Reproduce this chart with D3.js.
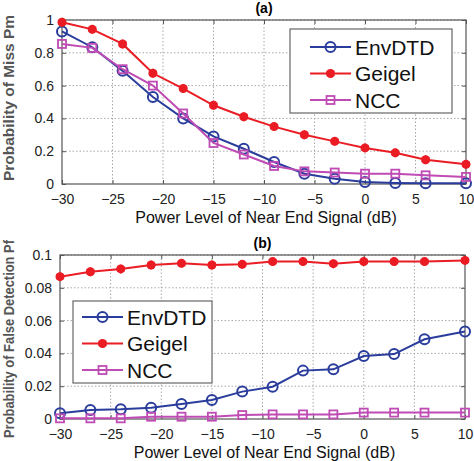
<!DOCTYPE html>
<html>
<head>
<meta charset="utf-8">
<script src="https://cdn.jsdelivr.net/npm/d3@7"></script>
<style>
  body { margin: 0; background: #fff; }
  svg { font-family: "Liberation Sans", Arial, sans-serif; }
</style>
</head>
<body>
<svg id="vis-svg" width="474" height="461"></svg>
<script>
// power level of near end signal (dB)
const powerLevels = [-30, -27, -24, -21, -18, -15, -12, -9, -6, -3, 0, 3, 6, 10];
const xTicks = [-30, -25, -20, -15, -10, -5, 0, 5, 10];

// (a) probability of miss
const missEnvDTD = [0.93, 0.834, 0.69, 0.53, 0.40, 0.29, 0.215, 0.134, 0.063, 0.032, 0.012, 0.006, 0.004, 0.004];
const missGeigel = [0.986, 0.943, 0.854, 0.675, 0.582, 0.48, 0.41, 0.35, 0.30, 0.26, 0.22, 0.19, 0.148, 0.12];
const missNCC    = [0.854, 0.83, 0.70, 0.60, 0.43, 0.25, 0.18, 0.11, 0.077, 0.07, 0.063, 0.063, 0.053, 0.043];
const missTicks  = [0, 0.2, 0.4, 0.6, 0.8, 1];

// (b) probability of false detection
const falseEnvDTD = [0.0035, 0.0055, 0.0059, 0.0069, 0.0091, 0.0116, 0.0167, 0.0197, 0.0295, 0.0303, 0.0384, 0.0396, 0.0486, 0.0533];
const falseGeigel = [0.0868, 0.0898, 0.0915, 0.0939, 0.0949, 0.0939, 0.0943, 0.096, 0.096, 0.0947, 0.096, 0.096, 0.096, 0.0967];
const falseNCC    = [0.0004, 0.0004, 0.0004, 0.0014, 0.0014, 0.0014, 0.0024, 0.0028, 0.0028, 0.0028, 0.0039, 0.0039, 0.0039, 0.0039];
const falseTicks  = [0, 0.02, 0.04, 0.06, 0.08, 0.1];

const seriesNames = ["EnvDTD", "Geigel", "NCC"];
const colors = { EnvDTD: "#2b3d9c", Geigel: "#ea1c24", NCC: "#bf4bb4" };

const svg = d3.select("#vis-svg");

const drawMarker = (g, name, x, y) => {
  if (name === "EnvDTD") {
    g.append("circle").attr("cx", x).attr("cy", y).attr("r", 5)
      .attr("fill", "none").attr("stroke", colors[name]).attr("stroke-width", 2);
  } else if (name === "Geigel") {
    g.append("circle").attr("cx", x).attr("cy", y).attr("r", 4.5).attr("fill", colors[name]);
    g.append("path").attr("d", d3.symbol(d3.symbolAsterisk, 55)())
      .attr("transform", `translate(${x},${y})`)
      .attr("stroke", colors[name]).attr("stroke-width", 1.2);
  } else {
    g.append("rect").attr("x", x - 4).attr("y", y - 4).attr("width", 8).attr("height", 8)
      .attr("fill", "none").attr("stroke", colors[name]).attr("stroke-width", 1.8);
  }
};

const panel = (opt) => {
  const g = svg.append("g");
  const x = d3.scaleLinear().domain([-30, 10]).range([opt.left, opt.right]);
  const y = d3.scaleLinear().domain([0, opt.yMax]).range([opt.bottom, opt.top]);

  // grid
  g.selectAll(".gx").data(xTicks.slice(1, -1)).enter().append("line")
    .attr("x1", d => x(d)).attr("x2", d => x(d)).attr("y1", opt.top).attr("y2", opt.bottom)
    .attr("stroke", "#a8a8a8").attr("stroke-dasharray", "1.5,2");
  g.selectAll(".gy").data(opt.yTicks.slice(1)).enter().append("line")
    .attr("x1", opt.left).attr("x2", opt.right).attr("y1", d => y(d)).attr("y2", d => y(d))
    .attr("stroke", "#a8a8a8").attr("stroke-dasharray", "1.5,2");

  // axes (MATLAB style: ticks inward on all sides)
  const axisStyle = a => {
    a.select(".domain").remove();
    a.selectAll("line").attr("stroke", "#555");
    a.selectAll("text").attr("fill", "#222").style("font-size", "14px");
  };
  g.append("g").attr("transform", `translate(0,${opt.bottom})`)
    .call(d3.axisBottom(x).tickValues(xTicks).tickSize(-4).tickPadding(10).tickFormat(d3.format("d")))
    .call(axisStyle);
  g.append("g").attr("transform", `translate(0,${opt.top})`)
    .call(d3.axisTop(x).tickValues(xTicks).tickSize(-4).tickFormat(""))
    .call(axisStyle);
  g.append("g").attr("transform", `translate(${opt.left},0)`)
    .call(d3.axisLeft(y).tickValues(opt.yTicks).tickSize(-4).tickPadding(8).tickFormat(d => d === 0 ? "0" : String(+d.toFixed(2))))
    .call(axisStyle);
  g.append("g").attr("transform", `translate(${opt.right},0)`)
    .call(d3.axisRight(y).tickValues(opt.yTicks).tickSize(-4).tickFormat(""))
    .call(axisStyle);
  g.append("rect").attr("x", opt.left).attr("y", opt.top)
    .attr("width", opt.right - opt.left).attr("height", opt.bottom - opt.top)
    .attr("fill", "none").attr("stroke", "#555").attr("stroke-width", 1.2);

  // series
  const line = d3.line().x((d, i) => x(powerLevels[i])).y(d => y(d));
  seriesNames.forEach(name => {
    const vals = opt.data[name];
    g.append("path").datum(vals).attr("d", line)
      .attr("fill", "none").attr("stroke", colors[name]).attr("stroke-width", 2);
    vals.forEach((v, i) => drawMarker(g, name, x(powerLevels[i]), y(v)));
  });

  // legend
  const lg = g.append("g");
  lg.append("rect").attr("x", opt.leg.x).attr("y", opt.leg.y).attr("width", opt.leg.w).attr("height", opt.leg.h)
    .attr("fill", "#fff").attr("stroke", "#666").attr("stroke-width", 1.2);
  seriesNames.forEach((name, i) => {
    const ly = opt.leg.y + opt.leg.row0 + i * 26.5;
    const lx = opt.leg.x + opt.leg.pad;
    lg.append("line").attr("x1", lx).attr("x2", lx + 41).attr("y1", ly).attr("y2", ly)
      .attr("stroke", colors[name]).attr("stroke-width", 2);
    drawMarker(lg, name, lx + 20.5, ly);
    lg.append("text").attr("x", lx + 45).attr("y", ly + 7.5).text(name)
      .style("font-size", "21px").attr("fill", "#111");
  });

  // titles and labels
  g.append("text").attr("x", (opt.left + opt.right) / 2).attr("y", opt.top - 7)
    .attr("text-anchor", "middle").style("font-size", "14px").style("font-weight", "bold").text(opt.title);
  g.append("text").attr("x", (opt.left + opt.right) / 2 + 2).attr("y", opt.bottom + 39)
    .attr("text-anchor", "middle").style("font-size", "16px").attr("fill", "#111")
    .text("Power Level of Near End Signal (dB)");
  g.append("text").attr("transform", `translate(14,${opt.yLabel.cy}) rotate(-90)`)
    .attr("text-anchor", "middle").style("font-size", "14px").style("font-weight", "bold")
    .attr("fill", "#555").attr("textLength", opt.yLabel.len).attr("lengthAdjust", "spacingAndGlyphs")
    .text(opt.yLabel.text);
};

panel({
  left: 62, right: 466, top: 20, bottom: 184, yMax: 1, yTicks: missTicks, title: "(a)",
  data: { EnvDTD: missEnvDTD, Geigel: missGeigel, NCC: missNCC },
  leg: { x: 290, y: 29, w: 162, h: 84, pad: 20, row0: 18 },
  yLabel: { cy: 98, len: 166, text: "Probability of Miss Pm" }
});

panel({
  left: 60, right: 465, top: 255, bottom: 419, yMax: 0.1, yTicks: falseTicks, title: "(b)",
  data: { EnvDTD: falseEnvDTD, Geigel: falseGeigel, NCC: falseNCC },
  leg: { x: 73, y: 301, w: 139, h: 82, pad: 9, row0: 16 },
  yLabel: { cy: 339, len: 198, text: "Probability of False Detection Pf" }
});
</script>
</body>
</html>
